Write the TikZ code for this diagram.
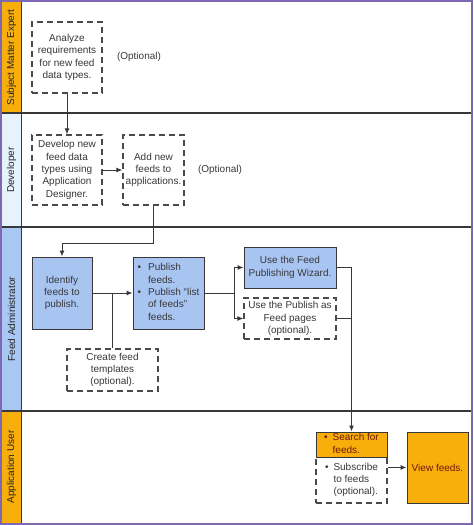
\documentclass[tikz,border=0pt]{standalone}
\usepackage{fontspec}
\setmainfont{Liberation Sans}
\usetikzlibrary{arrows.meta}
\definecolor{framepurple}{HTML}{7E67B3}
\definecolor{laneorange}{HTML}{F8AF0C}
\definecolor{laneblue}{HTML}{A9C7F3}
\definecolor{lanepale}{HTML}{E6F3FC}
\definecolor{boxblue}{HTML}{A8C5F2}
\definecolor{inkgray}{HTML}{383838}
\definecolor{dashgray}{HTML}{4A4A4A}
\definecolor{inkred}{HTML}{6E1A08}
\begin{document}
\begin{tikzpicture}[x=1pt,y=-1pt,
    every node/.style={font=\fontsize{10}{12.3}\selectfont, text=inkgray, inner sep=0pt},
    optbox/.style={draw=dashgray, line width=1.2pt, dash pattern=on 6pt off 4pt, fill=white, align=center},
    bluebox/.style={draw=inkgray, line width=1pt, fill=boxblue, align=center},
    orangebox/.style={draw=inkgray, line width=1pt, fill=laneorange, text=inkred, align=center},
    lanelabel/.style={rotate=90, text=black!85},
    flow/.style={-{Latex[length=6pt,width=5pt]}, line width=1pt, draw=inkgray},
    link/.style={line width=1pt, draw=inkgray}
]
    \useasboundingbox (0,0) rectangle (474,525);

    % lanes
    \fill[laneorange] (2,2) rectangle (21,113);
    \fill[lanepale] (2,113) rectangle (21,227);
    \fill[laneblue] (2,227) rectangle (21,411);
    \fill[laneorange] (2,411) rectangle (21,523);
    \draw[line width=1.5pt, inkgray] (2,113) -- (472,113);
    \draw[line width=1.5pt, inkgray] (2,227) -- (472,227);
    \draw[line width=1.5pt, inkgray] (2,411) -- (472,411);
    \draw[line width=1pt, inkgray] (21,2) -- (21,523);
    \draw[line width=2pt, framepurple] (1,1) rectangle (472,524);

    \node[lanelabel] (lsme) at (11.5,57.5) {Subject Matter Expert};
    \node[lanelabel] (ldev) at (11.5,170) {Developer};
    \node[lanelabel] (ladm) at (11.5,319) {Feed Administrator};
    \node[lanelabel] (lusr) at (11.5,467) {Application User};

    % subject matter expert
    \node[optbox, minimum width=70pt, minimum height=71pt] (analyze) at (67,57.5)
        {Analyze\\requirements\\for new feed\\data types.};
    \node (opt1) at (139,57) {(Optional)};

    % developer
    \node[optbox, minimum width=70pt, minimum height=70pt] (develop) at (67,170)
        {Develop new\\feed data\\types using\\Application\\Designer.};
    \node[optbox, minimum width=61pt, minimum height=70pt] (addfeeds) at (153.5,170)
        {Add new\\feeds to\\applications.};
    \node (opt2) at (220,170) {(Optional)};

    % feed administrator
    \node[bluebox, minimum width=60pt, minimum height=72pt] (identify) at (62,293)
        {Identify\\feeds to\\publish.};
    \node[bluebox, minimum width=71pt, minimum height=72pt] (publish) at (168.5,293)
        {\begin{tabular}{@{}l@{\hspace{7pt}}l@{}}
            \textbullet & Publish\\ & feeds.\\
            \textbullet & Publish ``list\\ & of feeds''\\ & feeds.
         \end{tabular}};
    \node[optbox, minimum width=91pt, minimum height=42pt] (templates) at (112.5,370)
        {Create feed\\templates\\(optional).};
    \node[bluebox, minimum width=92pt, minimum height=41pt] (wizard) at (290,267.5)
        {Use the Feed\\Publishing Wizard.};
    \node[optbox, minimum width=92pt, minimum height=41pt] (publishas) at (290,318.5)
        {Use the Publish as\\Feed pages\\(optional).};

    % application user
    \node[optbox, minimum width=71pt, minimum height=46pt] (subscribe) at (351.5,480)
        {\begin{tabular}{@{}l@{\hspace{5pt}}l@{}}
            \textbullet & Subscribe\\ & to feeds\\ & (optional).
         \end{tabular}};
    \node[orangebox, minimum width=71pt, minimum height=25pt] (search) at (351.5,444.5)
        {\begin{tabular}{@{}l@{\hspace{5pt}}l@{}}
            \textbullet & Search for\\ & feeds.
         \end{tabular}};
    \node[orangebox, minimum width=61pt, minimum height=71pt] (view) at (437.5,467.5)
        {View feeds.};

    % connectors
    \coordinate (split) at (templates.north |- identify.east);
    \coordinate (fork) at (234,293);
    \draw[flow] (analyze.south) -- (develop.north);
    \draw[flow] (develop.east) -- (addfeeds.west);
    \draw[flow] (addfeeds.south) -- ++(0,38) -| (identify.north);
    \draw[flow] (identify.east) -- (publish.west);
    \draw[link] (split) -- (templates.north);
    \draw[link] (publish.east) -- (fork);
    \draw[flow] (fork) |- (wizard.west);
    \draw[flow] (fork) |- (publishas.west);
    \draw[flow] (wizard.east) -| (search.north);
    \draw[link] (publishas.east) -- (publishas.east -| search.north);
    \draw[flow] (subscribe.east |- view.west) -- (view.west);
\end{tikzpicture}
\end{document}
